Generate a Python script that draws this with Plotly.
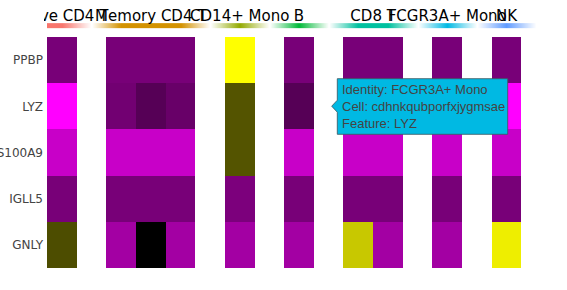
import plotly.graph_objects as go

# ---------------- data ----------------
features = ["PPBP", "LYZ", "S100A9", "IGLL5", "GNLY"]
identities = ["Naive CD4 T", "Memory CD4 T", "CD14+ Mono", "B", "CD8 T", "FCGR3A+ Mono", "NK"]
identity_colors = ["#F8766D", "#D39200", "#93AA00", "#00BA38", "#00C19F", "#00B9E3", "#619CFF"]

cell_identity = ["Naive CD4 T", "Memory CD4 T", "Memory CD4 T", "Memory CD4 T", "CD14+ Mono",
                 "B", "CD8 T", "CD8 T", "FCGR3A+ Mono", "NK"]
cell_names = ["tqzbrhkwxmjyodlaepsc", "vhpglnbxqwzfrtkjaymu", "ojmwkzrcyxpqdhtsbaen",
              "iblsuqfgwzpdtxrnkmoh", "zrxmhafyqjuwkcopngld", "wfqrksmgzjdnlbhytoxe",
              "ekpzqxrwsbhagfnjcuvl", "yjrfmxgckoldqwhpzusn", "cdhnkqubporfxjygmsae",
              "nsxcwzdjgeqkbmhflrat"]

# scaled expression, one list per feature (one value per cell)
expr_PPBP   = [-1.18, -1.18, -1.18, -1.18,  2.50, -1.18, -1.18, -1.18, -1.18, -1.18]
expr_LYZ    = [-2.50, -1.12, -0.84, -1.02,  0.82, -0.84, -1.10, -1.15,  1.40, -2.50]
expr_S100A9 = [-1.96, -1.96, -1.96, -1.96,  0.82, -1.96, -1.96, -1.96, -1.96, -1.96]
expr_IGLL5  = [-1.18, -1.18, -1.18, -1.18, -1.22, -1.18, -1.18, -1.18, -1.18, -1.18]
expr_GNLY   = [ 0.75, -1.60,  0.00, -1.60, -1.60, -1.60,  1.96, -1.60, -1.60,  2.33]
expr_rows = [expr_PPBP, expr_LYZ, expr_S100A9, expr_IGLL5, expr_GNLY]

hover_identity = "FCGR3A+ Mono"
hover_cell = "cdhnkqubporfxjygmsae"
hover_feature = "LYZ"

# ---------------- build column layout (gap column after each group) ----------------
col_cells = []          # cell index or None for gap
group_cols = {}         # identity -> list of column indices
for ident in identities:
    idx = [i for i, c in enumerate(cell_identity) if c == ident]
    group_cols[ident] = []
    for i in idx:
        group_cols[ident].append(len(col_cells))
        col_cells.append(i)
    col_cells.append(None)
ncol = len(col_cells)

z = [[(row[c] if c is not None else None) for c in col_cells] for row in expr_rows]
hov = [[(f"Identity: {cell_identity[c]}<br>Cell: {cell_names[c]}<br>Feature: {features[r]}"
         if c is not None else "") for c in col_cells] for r in range(len(features))]

fig = go.Figure()
fig.add_trace(go.Heatmap(
    z=z, x=list(range(ncol)), y=list(range(len(features))),
    colorscale=[[0, "#FF00FF"], [0.5, "#000000"], [1, "#FFFF00"]],
    zmin=-2.5, zmax=2.5, showscale=False, hoverongaps=False,
    text=hov, hovertemplate="%{text}<extra></extra>"))

# group colour bars (fading gradient)
bar_edges = [-0.80, -0.745, -0.69]
for ident, colr in zip(identities, identity_colors):
    cols = group_cols[ident]
    xs = list(range(max(cols[0] - 1, 0), cols[-1] + 2))
    vals = [1 if x in cols else 0 for x in xs]
    r, g, b = int(colr[1:3], 16), int(colr[3:5], 16), int(colr[5:7], 16)
    fig.add_trace(go.Heatmap(
        z=[vals, vals], x=xs, y=bar_edges, zsmooth="best",
        colorscale=[[0, f"rgba({r},{g},{b},0)"], [1, f"rgba({r},{g},{b},1)"]],
        zmin=0, zmax=1, showscale=False, hoverinfo="skip"))

# group labels
centers = [sum(group_cols[i]) / len(group_cols[i]) for i in identities]
fig.add_trace(go.Scatter(
    x=centers, y=[-0.93] * len(identities), mode="text", text=identities,
    textposition="middle center", cliponaxis=True,
    textfont=dict(family="DejaVu Sans", size=15, color="#000000"),
    hoverinfo="skip", showlegend=False))

# ---------------- layout ----------------
W, H = 567, 290
ML, MR, MT, MB = 44, 16, 0, 22
pw, ph = W - ML - MR, H - MT - MB
x_left = -0.5 - 3.0 / 29.65

def px(xp):
    return (xp - ML) / pw

def py(yp):
    return (H - MB - yp) / ph

# static imitation of the hover label
bl, br, bt, bb = 337.3, 507.7, 78.7, 134.3
tipx, tipy, half = 331.7, 106.2, 6.0
path = (f"M {px(bl)} {py(bt)} L {px(br)} {py(bt)} L {px(br)} {py(bb)} L {px(bl)} {py(bb)} "
        f"L {px(bl)} {py(tipy + half)} L {px(tipx)} {py(tipy)} L {px(bl)} {py(tipy - half)} Z")
fig.add_shape(type="path", path=path, xref="paper", yref="paper",
              fillcolor="#00B9E3", line=dict(color="rgba(60,90,100,0.85)", width=1), layer="above")
fig.add_annotation(
    x=px(340), y=py((bt + bb) / 2), xref="paper", yref="paper",
    xanchor="left", yanchor="middle", align="left", showarrow=False,
    text=f"Identity: {hover_identity}<br>Cell: {hover_cell}<br>Feature: {hover_feature}",
    font=dict(family="Liberation Sans, Arial", size=13, color="#444444"))

fig.update_layout(
    width=W, height=H, margin=dict(l=ML, r=MR, t=MT, b=MB, autoexpand=False),
    paper_bgcolor="white", plot_bgcolor="white", showlegend=False,
    xaxis=dict(range=[x_left, ncol - 0.5], visible=False, showgrid=False, zeroline=False,
               automargin=False),
    yaxis=dict(range=[len(features) - 0.5, -1.301], tickvals=list(range(len(features))),
               ticktext=features, showgrid=False, zeroline=False, ticks="", automargin=False,
               tickfont=dict(family="DejaVu Sans", size=12, color="#444444")),
)

fig.write_html("out.html")
